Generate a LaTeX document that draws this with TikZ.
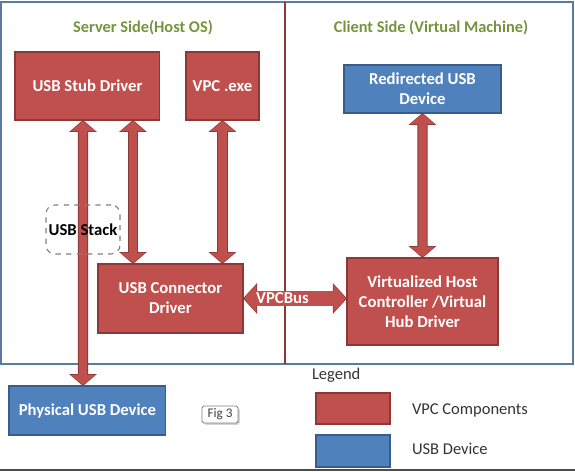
\documentclass[tikz,border=0pt]{standalone}
\usepackage{fontspec}
\setmainfont{Carlito}
\usetikzlibrary{positioning, arrows.meta, shadows}

\definecolor{vpcred}{HTML}{C0504D}
\definecolor{vpcedge}{HTML}{8C3836}
\definecolor{usbblue}{HTML}{4F81BD}
\definecolor{usbedge}{HTML}{385D8A}
\definecolor{titlegreen}{HTML}{77933C}
\definecolor{framegray}{HTML}{5B7AA3}

\begin{document}
\begin{tikzpicture}[x=0.02cm, y=-0.02cm, outer sep=0pt,
    every node/.style={inner sep=0pt, align=center, font=\fontsize{9.5}{11.4}\selectfont\bfseries},
    vpcbox/.style={draw=vpcedge, fill=vpcred, line width=0.6pt, text=white, anchor=north west},
    usbbox/.style={draw=usbedge, fill=usbblue, line width=0.6pt, text=white, anchor=north west},
    pipe/.style={draw=vpcred, line width=4.8pt, shorten <=0.6pt, shorten >=0.6pt,
        {Triangle[width=13.8pt,length=5.8pt]}-{Triangle[width=13.8pt,length=5.8pt]},
        preaction={draw=vpcedge, line width=5.8pt, shorten <=0pt, shorten >=0pt,
        {Triangle[width=15.4pt,length=6.8pt]}-{Triangle[width=15.4pt,length=6.8pt]}}},
    buspipe/.style={draw=vpcred, line width=8pt, shorten <=0.6pt, shorten >=0.6pt,
        {Triangle[width=15.6pt,length=7pt]}-{Triangle[width=15.6pt,length=7pt]},
        preaction={draw=vpcedge, line width=9pt, shorten <=0pt, shorten >=0pt,
        {Triangle[width=17pt,length=8pt]}-{Triangle[width=17pt,length=8pt]}}},
    legendtext/.style={font=\fontsize{9.4}{11}\selectfont, text=black!80, anchor=west}]
    \useasboundingbox (0,0) rectangle (575,472);
    \draw[framegray, line width=0.9pt] (1,2) rectangle (573,364);
    \draw[vpcedge, line width=0.8pt] (285,2) -- (285,364);
    \draw[black!70, line width=1.4pt] (0,470) -- (575,470);

    \node (server) [text=titlegreen, font=\fontsize{9.3}{11}\selectfont\bfseries] at (143,28) {Server Side(Host OS)};
    \node (client) [text=titlegreen, font=\fontsize{9.3}{11}\selectfont\bfseries] at (431,28) {Client Side (Virtual Machine)};

    \node (stub) [vpcbox, minimum width=2.9cm, minimum height=1.36cm] at (15,52) {USB Stub Driver};
    \node (vpc) [vpcbox, minimum width=1.46cm, minimum height=1.36cm] at (186,52) {VPC .exe};
    \node (redir) [usbbox, minimum width=3.14cm, minimum height=0.96cm] at (344,65) {Redirected USB\\Device};
    \node (conn) [vpcbox, minimum width=2.9cm, minimum height=1.38cm] at (98,264) {USB Connector\\Driver};
    \node (virt) [vpcbox, minimum width=3.02cm, minimum height=1.74cm] at (347,258) {Virtualized Host\\Controller /Virtual\\Hub Driver};
    \node (phys) [usbbox, minimum width=3.14cm, minimum height=0.98cm] at (9,386) {Physical USB Device};

    \draw[pipe] ([xshift=-0.09cm]stub.south) -- ([xshift=-0.09cm]phys.north);
    \draw[pipe] ([xshift=-0.54cm]stub.south east) -- ([xshift=-0.54cm]stub.south east |- conn.north);
    \draw[pipe] (vpc.south) -- (vpc.south |- conn.north);
    \draw[pipe] (redir.south) -- (virt.north);
    \draw[buspipe] (conn.east) -- node[pos=0.38, text=white] {VPCBus} (conn.east -| virt.west);

    \node (stack) [draw=gray, dashed, line width=0.6pt, rounded corners=5pt, anchor=north west,
        minimum width=1.48cm, minimum height=0.98cm] at (46,205) {USB Stack};

    \node (fig) [draw=gray, fill=white, line width=0.5pt, rounded corners=1pt, anchor=north west,
        drop shadow={shadow xshift=1pt, shadow yshift=-1pt, opacity=0.35},
        minimum width=0.72cm, minimum height=0.34cm, font=\fontsize{7.5}{8}\selectfont, text=black!75] at (202,406) {Fig 3};

    \node (legend) [legendtext] at (312,375) {Legend};
    \node (keyred) [vpcbox, minimum width=1.48cm, minimum height=0.62cm] at (316,393) {};
    \node (keyblue) [usbbox, minimum width=1.48cm, minimum height=0.64cm] at (316,435) {};
    \node (keyredtext) [legendtext] at (412,410) {VPC Components};
    \node (keybluetext) [legendtext] at (412,449) {USB Device};
\end{tikzpicture}
\end{document}
